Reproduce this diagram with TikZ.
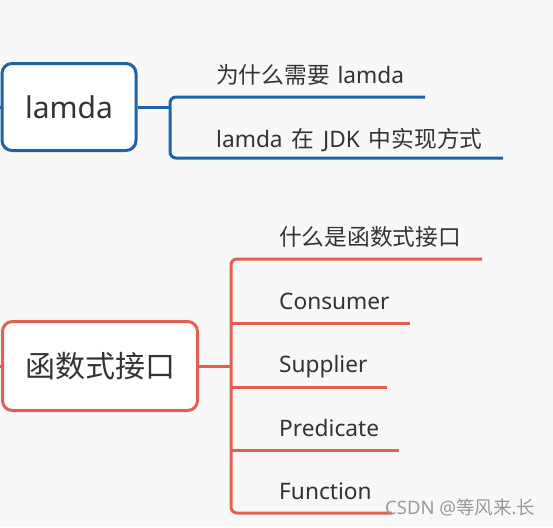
\documentclass[tikz,border=0pt]{standalone}
\usepackage{fontspec}
\setmainfont{Noto Sans}
\newfontfamily\cjk{Noto Sans CJK SC}
\definecolor{bgc}{HTML}{F8F8F8}
\definecolor{blueline}{HTML}{1E63A8}
\definecolor{redline}{HTML}{E2604F}
\definecolor{txt}{HTML}{333333}
\definecolor{wm}{HTML}{9A9A9A}
\begin{document}
\begin{tikzpicture}[x=1pt,y=-1pt,
  boxbase/.style={draw,line width=3pt,rounded corners=10pt,fill=white,text=txt,
    inner sep=0pt,font=\fontsize{30}{33}\selectfont},
  bluebox/.style={boxbase,draw=blueline},
  redbox/.style={boxbase,draw=redline},
  bline/.style={draw=blueline,line width=3pt},
  rline/.style={draw=redline,line width=3pt},
  leaf/.style={anchor=base west,inner sep=0pt,text=txt,font=\fontsize{22.7}{26}\selectfont}]
\fill[bgc] (0,0) rectangle (553,527);
\useasboundingbox (0,0) rectangle (553,527);

% ---- lamda branch ----
\coordinate (lin) at (-6,107);
\node[bluebox,minimum width=134pt,minimum height=87pt] (lam) at (69,107) {lamda};
\draw[bline] (lin) -- (lam.west);
\coordinate (lj) at (170,107);
\coordinate (ltop) at (170,97);
\coordinate (lbot) at (170,158);
\coordinate (l1e) at (425,97);
\coordinate (l2e) at (503,158);
\draw[bline] (lam.east) -- (lj);
\draw[bline,rounded corners=6pt] (l1e) -- (ltop) -- (lbot) -- (l2e);
\node[leaf] (t1) at (216,83) {{\cjk 为什么需要}\hspace{2pt} lamda};
\node[leaf] (t2) at (216,147) {lamda\hspace{3pt} {\cjk 在}\hspace{3pt} JDK\hspace{3pt} {\cjk 中实现方式}};

% ---- functional interface branch ----
\coordinate (rin) at (-6,366);
\node[redbox,minimum width=195pt,minimum height=89pt] (fi) at (100,366) {\cjk 函数式接口};
\draw[rline] (rin) -- (fi.west);
\coordinate (rj) at (231,366);
\coordinate (rtop) at (231,259);
\coordinate (rbot) at (231,513);
\coordinate (r1e) at (482,259);
\coordinate (r2s) at (231,323);
\coordinate (r2e) at (410,323);
\coordinate (r3s) at (231,387);
\coordinate (r3e) at (387,387);
\coordinate (r4s) at (231,450);
\coordinate (r4e) at (399,450);
\coordinate (r5e) at (392,513);
\draw[rline] (fi.east) -- (rj);
\draw[rline,rounded corners=6pt] (r1e) -- (rtop) -- (rbot) -- (r5e);
\draw[rline] (r2s) -- (r2e);
\draw[rline] (r3s) -- (r3e);
\draw[rline] (r4s) -- (r4e);
\node[leaf] (s1) at (279,245) {\cjk 什么是函数式接口};
\node[leaf] (s2) at (279,309) {Consumer};
\node[leaf] (s3) at (279,372) {Supplier};
\node[leaf] (s4) at (279,436) {Predicate};
\node[leaf] (s5) at (279,499) {Function};

% watermark
\node[anchor=base west,inner sep=0pt,text=wm,font=\fontsize{18.5}{21}\selectfont] (wmk) at (385,514) {CSDN @{\cjk 等风来}.{\cjk 长}};
\end{tikzpicture}
\end{document}
